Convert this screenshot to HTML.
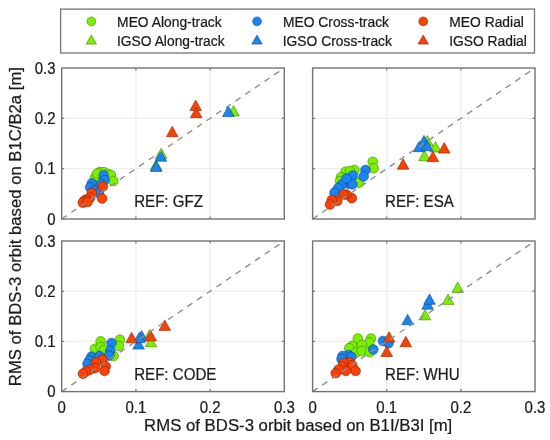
<!DOCTYPE html>
<html><head><meta charset="utf-8"><style>
html,body{margin:0;padding:0;background:#fff;width:550px;height:440px;overflow:hidden}
svg{display:block;font-family:"Liberation Sans", sans-serif;will-change:transform} text{stroke:#1a1a1a;stroke-width:0.22px;fill:#1a1a1a}
</style></head><body>
<svg width="550" height="440" viewBox="0 0 550 440">
<rect width="550" height="440" fill="#fff"/>
<line x1="135.90" y1="68.0" x2="135.90" y2="219.0" stroke="#eeeeee" stroke-width="1.2"/>
<line x1="61.7" y1="168.67" x2="284.3" y2="168.67" stroke="#eeeeee" stroke-width="1.2"/>
<line x1="210.10" y1="68.0" x2="210.10" y2="219.0" stroke="#eeeeee" stroke-width="1.2"/>
<line x1="61.7" y1="118.33" x2="284.3" y2="118.33" stroke="#eeeeee" stroke-width="1.2"/>
<circle cx="100.0" cy="172.0" r="4.85" fill="rgb(122,240,0)" stroke="rgb(67,132,0)" stroke-width="0.6"/>
<circle cx="104.0" cy="172.2" r="4.85" fill="rgb(122,240,0)" stroke="rgb(67,132,0)" stroke-width="0.6"/>
<circle cx="108.0" cy="174.0" r="4.85" fill="rgb(122,240,0)" stroke="rgb(67,132,0)" stroke-width="0.6"/>
<circle cx="95.0" cy="177.8" r="4.85" fill="rgb(122,240,0)" stroke="rgb(67,132,0)" stroke-width="0.6"/>
<circle cx="97.0" cy="173.5" r="4.85" fill="rgb(122,240,0)" stroke="rgb(67,132,0)" stroke-width="0.6"/>
<circle cx="110.8" cy="175.0" r="4.85" fill="rgb(122,240,0)" stroke="rgb(67,132,0)" stroke-width="0.6"/>
<circle cx="113.3" cy="181.0" r="4.85" fill="rgb(122,240,0)" stroke="rgb(67,132,0)" stroke-width="0.6"/>
<polygon points="161.1,148.2 166.9,158.6 155.3,158.6" fill="rgb(122,240,0)" stroke="rgb(67,132,0)" stroke-width="0.6"/>
<polygon points="156.0,159.7 161.8,170.1 150.2,170.1" fill="rgb(122,240,0)" stroke="rgb(67,132,0)" stroke-width="0.6"/>
<polygon points="233.5,105.6 239.3,116.0 227.7,116.0" fill="rgb(122,240,0)" stroke="rgb(67,132,0)" stroke-width="0.6"/>
<circle cx="103.7" cy="175.4" r="4.85" fill="rgb(25,132,242)" stroke="rgb(13,72,133)" stroke-width="0.6"/>
<circle cx="104.5" cy="180.2" r="4.85" fill="rgb(25,132,242)" stroke="rgb(13,72,133)" stroke-width="0.6"/>
<circle cx="91.8" cy="183.4" r="4.85" fill="rgb(25,132,242)" stroke="rgb(13,72,133)" stroke-width="0.6"/>
<circle cx="90.2" cy="187.4" r="4.85" fill="rgb(25,132,242)" stroke="rgb(13,72,133)" stroke-width="0.6"/>
<circle cx="94.2" cy="190.5" r="4.85" fill="rgb(25,132,242)" stroke="rgb(13,72,133)" stroke-width="0.6"/>
<circle cx="98.9" cy="193.0" r="4.85" fill="rgb(25,132,242)" stroke="rgb(13,72,133)" stroke-width="0.6"/>
<circle cx="101.0" cy="184.0" r="4.85" fill="rgb(25,132,242)" stroke="rgb(13,72,133)" stroke-width="0.6"/>
<polygon points="160.9,150.9 166.7,161.3 155.1,161.3" fill="rgb(25,132,242)" stroke="rgb(13,72,133)" stroke-width="0.6"/>
<polygon points="156.1,161.1 161.9,171.5 150.3,171.5" fill="rgb(25,132,242)" stroke="rgb(13,72,133)" stroke-width="0.6"/>
<polygon points="228.3,106.1 234.1,116.5 222.5,116.5" fill="rgb(25,132,242)" stroke="rgb(13,72,133)" stroke-width="0.6"/>
<circle cx="102.9" cy="186.6" r="4.85" fill="rgb(250,66,5)" stroke="rgb(137,36,2)" stroke-width="0.6"/>
<circle cx="102.1" cy="198.5" r="4.85" fill="rgb(250,66,5)" stroke="rgb(137,36,2)" stroke-width="0.6"/>
<circle cx="91.8" cy="193.0" r="4.85" fill="rgb(250,66,5)" stroke="rgb(137,36,2)" stroke-width="0.6"/>
<circle cx="90.2" cy="197.7" r="4.85" fill="rgb(250,66,5)" stroke="rgb(137,36,2)" stroke-width="0.6"/>
<circle cx="86.0" cy="199.5" r="4.85" fill="rgb(250,66,5)" stroke="rgb(137,36,2)" stroke-width="0.6"/>
<circle cx="84.0" cy="201.0" r="4.85" fill="rgb(250,66,5)" stroke="rgb(137,36,2)" stroke-width="0.6"/>
<circle cx="82.8" cy="202.7" r="4.85" fill="rgb(250,66,5)" stroke="rgb(137,36,2)" stroke-width="0.6"/>
<circle cx="87.5" cy="202.0" r="4.85" fill="rgb(250,66,5)" stroke="rgb(137,36,2)" stroke-width="0.6"/>
<polygon points="195.7,100.1 201.5,110.5 189.9,110.5" fill="rgb(250,66,5)" stroke="rgb(137,36,2)" stroke-width="0.6"/>
<polygon points="196.2,107.3 202.0,117.7 190.4,117.7" fill="rgb(250,66,5)" stroke="rgb(137,36,2)" stroke-width="0.6"/>
<polygon points="172.2,126.3 178.0,136.7 166.4,136.7" fill="rgb(250,66,5)" stroke="rgb(137,36,2)" stroke-width="0.6"/>
<line x1="61.7" y1="219.0" x2="284.3" y2="68.0" stroke="#8f8f8f" stroke-width="1.4" stroke-dasharray="6.1 5.57"/>
<line x1="135.90" y1="219.0" x2="135.90" y2="216.5" stroke="#737373" stroke-width="1.2"/>
<line x1="135.90" y1="68.0" x2="135.90" y2="70.5" stroke="#737373" stroke-width="1.2"/>
<line x1="61.7" y1="168.67" x2="64.2" y2="168.67" stroke="#737373" stroke-width="1.2"/>
<line x1="284.3" y1="168.67" x2="281.8" y2="168.67" stroke="#737373" stroke-width="1.2"/>
<line x1="210.10" y1="219.0" x2="210.10" y2="216.5" stroke="#737373" stroke-width="1.2"/>
<line x1="210.10" y1="68.0" x2="210.10" y2="70.5" stroke="#737373" stroke-width="1.2"/>
<line x1="61.7" y1="118.33" x2="64.2" y2="118.33" stroke="#737373" stroke-width="1.2"/>
<line x1="284.3" y1="118.33" x2="281.8" y2="118.33" stroke="#737373" stroke-width="1.2"/>
<rect x="61.7" y="68.0" width="222.60" height="151.00" fill="none" stroke="#737373" stroke-width="1.4"/>
<text transform="translate(134.16,207.30) scale(1,1.045)" font-size="15.1">REF: GFZ</text>
<text transform="translate(55.50,224.80) scale(1,1.045)" font-size="15" text-anchor="end">0</text>
<text transform="translate(55.50,174.47) scale(1,1.045)" font-size="15" text-anchor="end">0.1</text>
<text transform="translate(55.50,124.13) scale(1,1.045)" font-size="15" text-anchor="end">0.2</text>
<text transform="translate(55.50,73.80) scale(1,1.045)" font-size="15" text-anchor="end">0.3</text>
<line x1="386.73" y1="68.0" x2="386.73" y2="219.0" stroke="#eeeeee" stroke-width="1.2"/>
<line x1="312.6" y1="168.67" x2="535.0" y2="168.67" stroke="#eeeeee" stroke-width="1.2"/>
<line x1="460.87" y1="68.0" x2="460.87" y2="219.0" stroke="#eeeeee" stroke-width="1.2"/>
<line x1="312.6" y1="118.33" x2="535.0" y2="118.33" stroke="#eeeeee" stroke-width="1.2"/>
<circle cx="372.7" cy="161.8" r="4.85" fill="rgb(122,240,0)" stroke="rgb(67,132,0)" stroke-width="0.6"/>
<circle cx="373.6" cy="168.2" r="4.85" fill="rgb(122,240,0)" stroke="rgb(67,132,0)" stroke-width="0.6"/>
<circle cx="345.5" cy="171.8" r="4.85" fill="rgb(122,240,0)" stroke="rgb(67,132,0)" stroke-width="0.6"/>
<circle cx="354.5" cy="170.0" r="4.85" fill="rgb(122,240,0)" stroke="rgb(67,132,0)" stroke-width="0.6"/>
<circle cx="350.0" cy="171.0" r="4.85" fill="rgb(122,240,0)" stroke="rgb(67,132,0)" stroke-width="0.6"/>
<circle cx="341.0" cy="177.3" r="4.85" fill="rgb(122,240,0)" stroke="rgb(67,132,0)" stroke-width="0.6"/>
<circle cx="340.0" cy="181.0" r="4.85" fill="rgb(122,240,0)" stroke="rgb(67,132,0)" stroke-width="0.6"/>
<circle cx="359.0" cy="182.7" r="4.85" fill="rgb(122,240,0)" stroke="rgb(67,132,0)" stroke-width="0.6"/>
<polygon points="427.3,135.6 433.1,146.0 421.5,146.0" fill="rgb(122,240,0)" stroke="rgb(67,132,0)" stroke-width="0.6"/>
<polygon points="435.5,141.6 441.3,152.0 429.7,152.0" fill="rgb(122,240,0)" stroke="rgb(67,132,0)" stroke-width="0.6"/>
<polygon points="424.4,150.3 430.2,160.7 418.6,160.7" fill="rgb(122,240,0)" stroke="rgb(67,132,0)" stroke-width="0.6"/>
<circle cx="365.5" cy="170.0" r="4.85" fill="rgb(25,132,242)" stroke="rgb(13,72,133)" stroke-width="0.6"/>
<circle cx="363.6" cy="176.4" r="4.85" fill="rgb(25,132,242)" stroke="rgb(13,72,133)" stroke-width="0.6"/>
<circle cx="352.7" cy="175.5" r="4.85" fill="rgb(25,132,242)" stroke="rgb(13,72,133)" stroke-width="0.6"/>
<circle cx="348.2" cy="183.6" r="4.85" fill="rgb(25,132,242)" stroke="rgb(13,72,133)" stroke-width="0.6"/>
<circle cx="341.8" cy="184.5" r="4.85" fill="rgb(25,132,242)" stroke="rgb(13,72,133)" stroke-width="0.6"/>
<circle cx="352.3" cy="184.4" r="4.85" fill="rgb(25,132,242)" stroke="rgb(13,72,133)" stroke-width="0.6"/>
<circle cx="338.2" cy="188.2" r="4.85" fill="rgb(25,132,242)" stroke="rgb(13,72,133)" stroke-width="0.6"/>
<circle cx="334.5" cy="192.7" r="4.85" fill="rgb(25,132,242)" stroke="rgb(13,72,133)" stroke-width="0.6"/>
<circle cx="346.5" cy="178.5" r="4.85" fill="rgb(25,132,242)" stroke="rgb(13,72,133)" stroke-width="0.6"/>
<polygon points="424.0,135.4 429.8,145.8 418.2,145.8" fill="rgb(25,132,242)" stroke="rgb(13,72,133)" stroke-width="0.6"/>
<polygon points="419.1,141.3 424.9,151.7 413.3,151.7" fill="rgb(25,132,242)" stroke="rgb(13,72,133)" stroke-width="0.6"/>
<polygon points="427.0,140.3 432.8,150.7 421.2,150.7" fill="rgb(25,132,242)" stroke="rgb(13,72,133)" stroke-width="0.6"/>
<circle cx="351.8" cy="198.2" r="4.85" fill="rgb(250,66,5)" stroke="rgb(137,36,2)" stroke-width="0.6"/>
<circle cx="346.4" cy="194.5" r="4.85" fill="rgb(250,66,5)" stroke="rgb(137,36,2)" stroke-width="0.6"/>
<circle cx="343.6" cy="194.5" r="4.85" fill="rgb(250,66,5)" stroke="rgb(137,36,2)" stroke-width="0.6"/>
<circle cx="337.3" cy="200.9" r="4.85" fill="rgb(250,66,5)" stroke="rgb(137,36,2)" stroke-width="0.6"/>
<circle cx="331.8" cy="200.0" r="4.85" fill="rgb(250,66,5)" stroke="rgb(137,36,2)" stroke-width="0.6"/>
<circle cx="330.0" cy="204.5" r="4.85" fill="rgb(250,66,5)" stroke="rgb(137,36,2)" stroke-width="0.6"/>
<polygon points="403.1,158.8 408.9,169.2 397.3,169.2" fill="rgb(250,66,5)" stroke="rgb(137,36,2)" stroke-width="0.6"/>
<polygon points="444.2,142.6 450.0,153.0 438.4,153.0" fill="rgb(250,66,5)" stroke="rgb(137,36,2)" stroke-width="0.6"/>
<polygon points="432.9,151.3 438.7,161.7 427.1,161.7" fill="rgb(250,66,5)" stroke="rgb(137,36,2)" stroke-width="0.6"/>
<line x1="312.6" y1="219.0" x2="535.0" y2="68.0" stroke="#8f8f8f" stroke-width="1.4" stroke-dasharray="6.1 5.57"/>
<line x1="386.73" y1="219.0" x2="386.73" y2="216.5" stroke="#737373" stroke-width="1.2"/>
<line x1="386.73" y1="68.0" x2="386.73" y2="70.5" stroke="#737373" stroke-width="1.2"/>
<line x1="312.6" y1="168.67" x2="315.1" y2="168.67" stroke="#737373" stroke-width="1.2"/>
<line x1="535.0" y1="168.67" x2="532.5" y2="168.67" stroke="#737373" stroke-width="1.2"/>
<line x1="460.87" y1="219.0" x2="460.87" y2="216.5" stroke="#737373" stroke-width="1.2"/>
<line x1="460.87" y1="68.0" x2="460.87" y2="70.5" stroke="#737373" stroke-width="1.2"/>
<line x1="312.6" y1="118.33" x2="315.1" y2="118.33" stroke="#737373" stroke-width="1.2"/>
<line x1="535.0" y1="118.33" x2="532.5" y2="118.33" stroke="#737373" stroke-width="1.2"/>
<rect x="312.6" y="68.0" width="222.40" height="151.00" fill="none" stroke="#737373" stroke-width="1.4"/>
<text transform="translate(384.99,207.30) scale(1,1.045)" font-size="15.1">REF: ESA</text>
<line x1="135.90" y1="241.0" x2="135.90" y2="391.6" stroke="#eeeeee" stroke-width="1.2"/>
<line x1="61.7" y1="341.40" x2="284.3" y2="341.40" stroke="#eeeeee" stroke-width="1.2"/>
<line x1="210.10" y1="241.0" x2="210.10" y2="391.6" stroke="#eeeeee" stroke-width="1.2"/>
<line x1="61.7" y1="291.20" x2="284.3" y2="291.20" stroke="#eeeeee" stroke-width="1.2"/>
<circle cx="100.6" cy="341.4" r="4.85" fill="rgb(122,240,0)" stroke="rgb(67,132,0)" stroke-width="0.6"/>
<circle cx="119.9" cy="339.7" r="4.85" fill="rgb(122,240,0)" stroke="rgb(67,132,0)" stroke-width="0.6"/>
<circle cx="118.8" cy="345.9" r="4.85" fill="rgb(122,240,0)" stroke="rgb(67,132,0)" stroke-width="0.6"/>
<circle cx="94.9" cy="348.8" r="4.85" fill="rgb(122,240,0)" stroke="rgb(67,132,0)" stroke-width="0.6"/>
<circle cx="100.6" cy="347.0" r="4.85" fill="rgb(122,240,0)" stroke="rgb(67,132,0)" stroke-width="0.6"/>
<circle cx="113.6" cy="356.1" r="4.85" fill="rgb(122,240,0)" stroke="rgb(67,132,0)" stroke-width="0.6"/>
<circle cx="104.0" cy="350.0" r="4.85" fill="rgb(122,240,0)" stroke="rgb(67,132,0)" stroke-width="0.6"/>
<polygon points="149.6,329.6 155.4,340.0 143.8,340.0" fill="rgb(122,240,0)" stroke="rgb(67,132,0)" stroke-width="0.6"/>
<polygon points="150.9,336.4 156.7,346.8 145.1,346.8" fill="rgb(122,240,0)" stroke="rgb(67,132,0)" stroke-width="0.6"/>
<circle cx="111.4" cy="343.1" r="4.85" fill="rgb(25,132,242)" stroke="rgb(13,72,133)" stroke-width="0.6"/>
<circle cx="110.2" cy="351.0" r="4.85" fill="rgb(25,132,242)" stroke="rgb(13,72,133)" stroke-width="0.6"/>
<circle cx="109.1" cy="355.6" r="4.85" fill="rgb(25,132,242)" stroke="rgb(13,72,133)" stroke-width="0.6"/>
<circle cx="91.5" cy="356.7" r="4.85" fill="rgb(25,132,242)" stroke="rgb(13,72,133)" stroke-width="0.6"/>
<circle cx="99.4" cy="356.1" r="4.85" fill="rgb(25,132,242)" stroke="rgb(13,72,133)" stroke-width="0.6"/>
<circle cx="89.2" cy="360.7" r="4.85" fill="rgb(25,132,242)" stroke="rgb(13,72,133)" stroke-width="0.6"/>
<circle cx="87.5" cy="364.0" r="4.85" fill="rgb(25,132,242)" stroke="rgb(13,72,133)" stroke-width="0.6"/>
<polygon points="141.7,330.5 147.5,340.9 135.9,340.9" fill="rgb(25,132,242)" stroke="rgb(13,72,133)" stroke-width="0.6"/>
<polygon points="138.6,338.7 144.4,349.1 132.8,349.1" fill="rgb(25,132,242)" stroke="rgb(13,72,133)" stroke-width="0.6"/>
<polygon points="139.3,332.3 145.1,342.7 133.5,342.7" fill="rgb(25,132,242)" stroke="rgb(13,72,133)" stroke-width="0.6"/>
<circle cx="102.3" cy="359.5" r="4.85" fill="rgb(250,66,5)" stroke="rgb(137,36,2)" stroke-width="0.6"/>
<circle cx="96.0" cy="362.4" r="4.85" fill="rgb(250,66,5)" stroke="rgb(137,36,2)" stroke-width="0.6"/>
<circle cx="105.7" cy="366.4" r="4.85" fill="rgb(250,66,5)" stroke="rgb(137,36,2)" stroke-width="0.6"/>
<circle cx="104.5" cy="370.9" r="4.85" fill="rgb(250,66,5)" stroke="rgb(137,36,2)" stroke-width="0.6"/>
<circle cx="94.9" cy="368.1" r="4.85" fill="rgb(250,66,5)" stroke="rgb(137,36,2)" stroke-width="0.6"/>
<circle cx="89.8" cy="369.8" r="4.85" fill="rgb(250,66,5)" stroke="rgb(137,36,2)" stroke-width="0.6"/>
<circle cx="85.8" cy="371.5" r="4.85" fill="rgb(250,66,5)" stroke="rgb(137,36,2)" stroke-width="0.6"/>
<circle cx="83.0" cy="373.8" r="4.85" fill="rgb(250,66,5)" stroke="rgb(137,36,2)" stroke-width="0.6"/>
<polygon points="164.8,320.0 170.6,330.4 159.0,330.4" fill="rgb(250,66,5)" stroke="rgb(137,36,2)" stroke-width="0.6"/>
<polygon points="131.6,332.3 137.4,342.7 125.8,342.7" fill="rgb(250,66,5)" stroke="rgb(137,36,2)" stroke-width="0.6"/>
<polygon points="150.7,330.5 156.5,340.9 144.9,340.9" fill="rgb(250,66,5)" stroke="rgb(137,36,2)" stroke-width="0.6"/>
<line x1="61.7" y1="391.6" x2="284.3" y2="241.0" stroke="#8f8f8f" stroke-width="1.4" stroke-dasharray="6.1 5.57"/>
<line x1="135.90" y1="391.6" x2="135.90" y2="389.1" stroke="#737373" stroke-width="1.2"/>
<line x1="135.90" y1="241.0" x2="135.90" y2="243.5" stroke="#737373" stroke-width="1.2"/>
<line x1="61.7" y1="341.40" x2="64.2" y2="341.40" stroke="#737373" stroke-width="1.2"/>
<line x1="284.3" y1="341.40" x2="281.8" y2="341.40" stroke="#737373" stroke-width="1.2"/>
<line x1="210.10" y1="391.6" x2="210.10" y2="389.1" stroke="#737373" stroke-width="1.2"/>
<line x1="210.10" y1="241.0" x2="210.10" y2="243.5" stroke="#737373" stroke-width="1.2"/>
<line x1="61.7" y1="291.20" x2="64.2" y2="291.20" stroke="#737373" stroke-width="1.2"/>
<line x1="284.3" y1="291.20" x2="281.8" y2="291.20" stroke="#737373" stroke-width="1.2"/>
<rect x="61.7" y="241.0" width="222.60" height="150.60" fill="none" stroke="#737373" stroke-width="1.4"/>
<text transform="translate(134.16,379.90) scale(1,1.045)" font-size="15.1">REF: CODE</text>
<text transform="translate(55.50,397.40) scale(1,1.045)" font-size="15" text-anchor="end">0</text>
<text transform="translate(55.50,347.20) scale(1,1.045)" font-size="15" text-anchor="end">0.1</text>
<text transform="translate(55.50,297.00) scale(1,1.045)" font-size="15" text-anchor="end">0.2</text>
<text transform="translate(55.50,246.80) scale(1,1.045)" font-size="15" text-anchor="end">0.3</text>
<text transform="translate(61.70,412.60) scale(1,1.045)" font-size="15" text-anchor="middle">0</text>
<text transform="translate(135.90,412.60) scale(1,1.045)" font-size="15" text-anchor="middle">0.1</text>
<text transform="translate(210.10,412.60) scale(1,1.045)" font-size="15" text-anchor="middle">0.2</text>
<text transform="translate(284.30,412.60) scale(1,1.045)" font-size="15" text-anchor="middle">0.3</text>
<line x1="386.73" y1="241.0" x2="386.73" y2="391.6" stroke="#eeeeee" stroke-width="1.2"/>
<line x1="312.6" y1="341.40" x2="535.0" y2="341.40" stroke="#eeeeee" stroke-width="1.2"/>
<line x1="460.87" y1="241.0" x2="460.87" y2="391.6" stroke="#eeeeee" stroke-width="1.2"/>
<line x1="312.6" y1="291.20" x2="535.0" y2="291.20" stroke="#eeeeee" stroke-width="1.2"/>
<circle cx="357.8" cy="338.5" r="4.85" fill="rgb(122,240,0)" stroke="rgb(67,132,0)" stroke-width="0.6"/>
<circle cx="370.9" cy="338.5" r="4.85" fill="rgb(122,240,0)" stroke="rgb(67,132,0)" stroke-width="0.6"/>
<circle cx="369.2" cy="342.5" r="4.85" fill="rgb(122,240,0)" stroke="rgb(67,132,0)" stroke-width="0.6"/>
<circle cx="352.2" cy="345.9" r="4.85" fill="rgb(122,240,0)" stroke="rgb(67,132,0)" stroke-width="0.6"/>
<circle cx="362.0" cy="345.0" r="4.85" fill="rgb(122,240,0)" stroke="rgb(67,132,0)" stroke-width="0.6"/>
<circle cx="349.3" cy="348.2" r="4.85" fill="rgb(122,240,0)" stroke="rgb(67,132,0)" stroke-width="0.6"/>
<circle cx="355.6" cy="352.7" r="4.85" fill="rgb(122,240,0)" stroke="rgb(67,132,0)" stroke-width="0.6"/>
<circle cx="361.8" cy="351.0" r="4.85" fill="rgb(122,240,0)" stroke="rgb(67,132,0)" stroke-width="0.6"/>
<circle cx="369.8" cy="352.2" r="4.85" fill="rgb(122,240,0)" stroke="rgb(67,132,0)" stroke-width="0.6"/>
<polygon points="457.7,282.0 463.5,292.4 451.9,292.4" fill="rgb(122,240,0)" stroke="rgb(67,132,0)" stroke-width="0.6"/>
<polygon points="448.1,294.0 453.9,304.4 442.3,304.4" fill="rgb(122,240,0)" stroke="rgb(67,132,0)" stroke-width="0.6"/>
<polygon points="425.0,309.5 430.8,319.9 419.2,319.9" fill="rgb(122,240,0)" stroke="rgb(67,132,0)" stroke-width="0.6"/>
<circle cx="373.3" cy="349.5" r="4.85" fill="rgb(25,132,242)" stroke="rgb(13,72,133)" stroke-width="0.6"/>
<circle cx="383.0" cy="341.0" r="4.85" fill="rgb(25,132,242)" stroke="rgb(13,72,133)" stroke-width="0.6"/>
<circle cx="388.5" cy="343.2" r="4.85" fill="rgb(25,132,242)" stroke="rgb(13,72,133)" stroke-width="0.6"/>
<circle cx="348.2" cy="355.0" r="4.85" fill="rgb(25,132,242)" stroke="rgb(13,72,133)" stroke-width="0.6"/>
<circle cx="351.3" cy="356.8" r="4.85" fill="rgb(25,132,242)" stroke="rgb(13,72,133)" stroke-width="0.6"/>
<circle cx="342.5" cy="356.1" r="4.85" fill="rgb(25,132,242)" stroke="rgb(13,72,133)" stroke-width="0.6"/>
<circle cx="341.5" cy="359.0" r="4.85" fill="rgb(25,132,242)" stroke="rgb(13,72,133)" stroke-width="0.6"/>
<polygon points="427.6,298.8 433.4,309.2 421.8,309.2" fill="rgb(25,132,242)" stroke="rgb(13,72,133)" stroke-width="0.6"/>
<polygon points="429.5,293.9 435.3,304.3 423.7,304.3" fill="rgb(25,132,242)" stroke="rgb(13,72,133)" stroke-width="0.6"/>
<polygon points="407.6,314.3 413.4,324.7 401.8,324.7" fill="rgb(25,132,242)" stroke="rgb(13,72,133)" stroke-width="0.6"/>
<circle cx="349.9" cy="362.4" r="4.85" fill="rgb(250,66,5)" stroke="rgb(137,36,2)" stroke-width="0.6"/>
<circle cx="352.2" cy="365.2" r="4.85" fill="rgb(250,66,5)" stroke="rgb(137,36,2)" stroke-width="0.6"/>
<circle cx="355.6" cy="370.9" r="4.85" fill="rgb(250,66,5)" stroke="rgb(137,36,2)" stroke-width="0.6"/>
<circle cx="343.6" cy="363.0" r="4.85" fill="rgb(250,66,5)" stroke="rgb(137,36,2)" stroke-width="0.6"/>
<circle cx="342.5" cy="366.4" r="4.85" fill="rgb(250,66,5)" stroke="rgb(137,36,2)" stroke-width="0.6"/>
<circle cx="345.9" cy="370.9" r="4.85" fill="rgb(250,66,5)" stroke="rgb(137,36,2)" stroke-width="0.6"/>
<circle cx="338.5" cy="369.8" r="4.85" fill="rgb(250,66,5)" stroke="rgb(137,36,2)" stroke-width="0.6"/>
<circle cx="335.7" cy="373.2" r="4.85" fill="rgb(250,66,5)" stroke="rgb(137,36,2)" stroke-width="0.6"/>
<polygon points="389.1,331.7 394.9,342.1 383.3,342.1" fill="rgb(250,66,5)" stroke="rgb(137,36,2)" stroke-width="0.6"/>
<polygon points="405.8,336.3 411.6,346.7 400.0,346.7" fill="rgb(250,66,5)" stroke="rgb(137,36,2)" stroke-width="0.6"/>
<polygon points="386.7,346.1 392.5,356.5 380.9,356.5" fill="rgb(250,66,5)" stroke="rgb(137,36,2)" stroke-width="0.6"/>
<line x1="312.6" y1="391.6" x2="535.0" y2="241.0" stroke="#8f8f8f" stroke-width="1.4" stroke-dasharray="6.1 5.57"/>
<line x1="386.73" y1="391.6" x2="386.73" y2="389.1" stroke="#737373" stroke-width="1.2"/>
<line x1="386.73" y1="241.0" x2="386.73" y2="243.5" stroke="#737373" stroke-width="1.2"/>
<line x1="312.6" y1="341.40" x2="315.1" y2="341.40" stroke="#737373" stroke-width="1.2"/>
<line x1="535.0" y1="341.40" x2="532.5" y2="341.40" stroke="#737373" stroke-width="1.2"/>
<line x1="460.87" y1="391.6" x2="460.87" y2="389.1" stroke="#737373" stroke-width="1.2"/>
<line x1="460.87" y1="241.0" x2="460.87" y2="243.5" stroke="#737373" stroke-width="1.2"/>
<line x1="312.6" y1="291.20" x2="315.1" y2="291.20" stroke="#737373" stroke-width="1.2"/>
<line x1="535.0" y1="291.20" x2="532.5" y2="291.20" stroke="#737373" stroke-width="1.2"/>
<rect x="312.6" y="241.0" width="222.40" height="150.60" fill="none" stroke="#737373" stroke-width="1.4"/>
<text transform="translate(384.99,379.90) scale(1,1.045)" font-size="15.1">REF: WHU</text>
<text transform="translate(312.60,412.60) scale(1,1.045)" font-size="15" text-anchor="middle">0</text>
<text transform="translate(386.73,412.60) scale(1,1.045)" font-size="15" text-anchor="middle">0.1</text>
<text transform="translate(460.87,412.60) scale(1,1.045)" font-size="15" text-anchor="middle">0.2</text>
<text transform="translate(535.00,412.60) scale(1,1.045)" font-size="15" text-anchor="middle">0.3</text>
<text transform="translate(298.20,431.20)" font-size="16.75" text-anchor="middle">RMS of BDS-3 orbit based on B1I/B3I [m]</text>
<text transform="translate(20.80,226.60) rotate(-90)" font-size="16.7" text-anchor="middle">RMS of BDS-3 orbit based on B1C/B2a [m]</text>
<rect x="60.6" y="9.1" width="473.9" height="43.9" fill="#fff" stroke="#737373" stroke-width="1.3"/>
<circle cx="91.3" cy="21.4" r="4.4" fill="rgb(122,240,0)" stroke="rgb(67,132,0)" stroke-width="0.6"/>
<polygon points="91.3,35.1 96.5,44.1 86.1,44.1" fill="rgb(122,240,0)" stroke="rgb(67,132,0)" stroke-width="0.6"/>
<text transform="translate(117.10,26.60) scale(1,1.045)" font-size="13.85">MEO Along-track</text>
<text transform="translate(116.95,45.90) scale(1,1.045)" font-size="13.85">IGSO Along-track</text>
<circle cx="257.0" cy="21.4" r="4.4" fill="rgb(25,132,242)" stroke="rgb(13,72,133)" stroke-width="0.6"/>
<polygon points="257.0,35.1 262.2,44.1 251.8,44.1" fill="rgb(25,132,242)" stroke="rgb(13,72,133)" stroke-width="0.6"/>
<text transform="translate(282.90,26.60) scale(1,1.045)" font-size="13.85">MEO Cross-track</text>
<text transform="translate(282.75,45.90) scale(1,1.045)" font-size="13.85">IGSO Cross-track</text>
<circle cx="423.2" cy="21.4" r="4.4" fill="rgb(250,66,5)" stroke="rgb(137,36,2)" stroke-width="0.6"/>
<polygon points="423.2,35.1 428.4,44.1 418.0,44.1" fill="rgb(250,66,5)" stroke="rgb(137,36,2)" stroke-width="0.6"/>
<text transform="translate(449.30,26.60) scale(1,1.045)" font-size="13.85">MEO Radial</text>
<text transform="translate(449.15,45.90) scale(1,1.045)" font-size="13.85">IGSO Radial</text>
</svg>
</body></html>
